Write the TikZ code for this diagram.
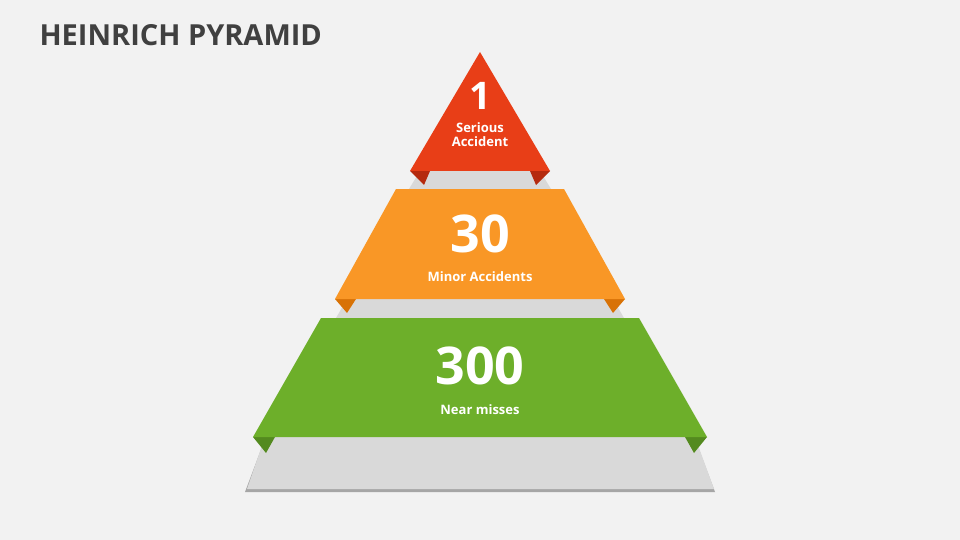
\documentclass[tikz,border=0pt]{standalone}
\usepackage{fontspec}
\setmainfont{Open Sans}
\usetikzlibrary{positioning}
\definecolor{bgcol}{HTML}{F2F2F2}
\definecolor{greyband}{HTML}{D9D9D9}
\definecolor{redtop}{HTML}{E83E17}
\definecolor{reddark}{HTML}{B52A0E}
\definecolor{orangemid}{HTML}{F99726}
\definecolor{orangedark}{HTML}{D87206}
\definecolor{greenbase}{HTML}{6DAF2A}
\definecolor{greendark}{HTML}{548A1F}
\definecolor{titlecol}{HTML}{404040}
\tikzstyle{num} = [text=white, font=\bfseries]
\tikzstyle{lbl} = [text=white, font=\bfseries\fontsize{13}{15}\selectfont, align=center]

\begin{document}
\begin{tikzpicture}[x=1pt,y=-1pt]

%Background
\fill[bgcol] (0,0) rectangle (960,540);
\useasboundingbox (0,0) rectangle (960,540);

%Title
\node[anchor=west, text=titlecol, font=\bfseries\fontsize{29}{32}\selectfont] (title) at (36,35) {HEINRICH PYRAMID};

%Grey bands
\fill[greyband] (420,171) -- (540,171) -- (551,189) -- (409,189) -- cycle;
\fill[greyband] (347,299) -- (613,299) -- (624,318) -- (336,318) -- cycle;
\fill[black!35] (265,439) -- (695,439) -- (715,492) -- (245,492) -- cycle;
\fill[greyband] (265,437) -- (695,437) -- (714,489) -- (247,489) -- cycle;

%Folds
\fill[reddark] (410,171) -- (430,171) -- (424,185) -- cycle;
\fill[reddark] (550,171) -- (530,171) -- (536,185) -- cycle;
\fill[orangedark] (335,299) -- (356,299) -- (347,313) -- cycle;
\fill[orangedark] (625,299) -- (604,299) -- (613,313) -- cycle;
\fill[greendark] (253,437) -- (275,437) -- (266,453) -- cycle;
\fill[greendark] (707,437) -- (685,437) -- (694,453) -- cycle;

%Tiers
\fill[redtop] (480,52) -- (550,171) -- (410,171) -- cycle;
\fill[orangemid] (396,189) -- (564,189) -- (625,299) -- (335,299) -- cycle;
\fill[greenbase] (321,318) -- (639,318) -- (707,437) -- (253,437) -- cycle;

%Labels
\node[num, font=\bfseries\fontsize{38}{40}\selectfont] (one) at (480,96) {1};
\node[lbl] (serious) at (480,135) {Serious\\[-1pt]Accident};
\node[num, font=\bfseries\fontsize{52}{54}\selectfont] (thirty) at (480,234) {30};
\node[lbl] (minor) at (480,277) {Minor Accidents};
\node[num, font=\bfseries\fontsize{52}{54}\selectfont] (threehundred) at (480,366) {300};
\node[lbl] (near) at (480,410) {Near misses};

\end{tikzpicture}
\end{document}
